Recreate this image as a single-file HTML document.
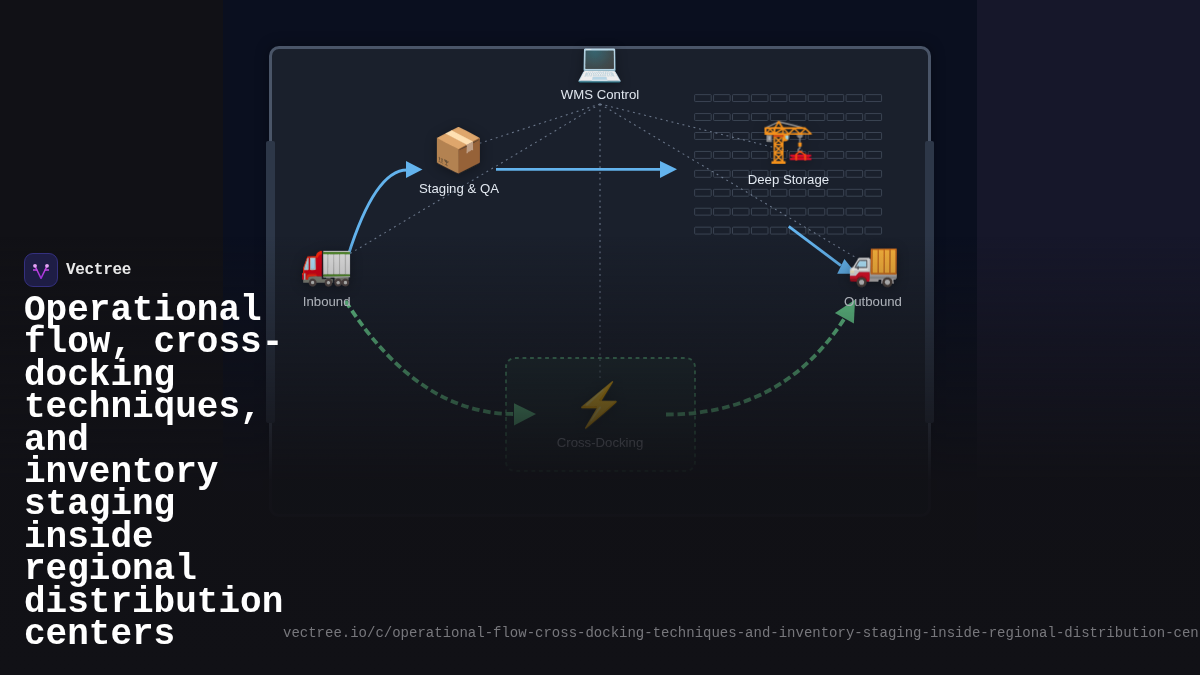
<!DOCTYPE html>
<html><head><meta charset="utf-8">
<style>
*{margin:0;padding:0;box-sizing:border-box}
html,body{width:1200px;height:675px;overflow:hidden;background:#111116}
body{position:relative;font-family:"Liberation Sans",sans-serif}
#diag,#title,#brand,#url{will-change:transform}
#bg{position:absolute;left:977px;top:0;width:223px;height:675px;background:#16172a}
#center{position:absolute;left:223px;top:0;width:754px;height:675px;background:#0a0f1f}
#box{position:absolute;left:269px;top:46px;width:662px;height:471px;border:3px solid #4a5568;border-radius:10px;background:#1a202c;
 box-shadow:0 0 14px rgba(0,0,0,.35)}
.bar{position:absolute;top:141px;width:9px;height:282px;background:#2d3748;border-radius:2px}
#diag{position:absolute;left:0;top:0}
#fade{position:absolute;left:0;top:0;width:1200px;height:675px;
 background:linear-gradient(to bottom,rgba(17,17,22,0) 35%,rgba(17,17,22,.97) 71%,#111116 100%)}
#logo{position:absolute;left:24px;top:253px;width:34px;height:34px;border-radius:9px;background:#1e1d45;border:1px solid #34307f}
#brand{position:absolute;left:66px;top:259.8px;font:bold 16px/20px "Liberation Mono",monospace;letter-spacing:-0.32px;color:#e8e8e8}
#title{position:absolute;left:24px;top:294.6px;width:260px;white-space:nowrap;font:bold 36px/32.4px "Liberation Mono",monospace;color:#fff}
#url{position:absolute;left:283.2px;top:625px;font:14px/16px "Liberation Mono",monospace;color:#77777c;white-space:nowrap}
</style></head>
<body>
<div id="bg"></div>
<div id="center"></div>
<div id="box"></div>
<div class="bar" style="left:266px"></div>
<div class="bar" style="left:925px"></div>
<svg id="diag" width="1200" height="675" viewBox="0 0 1200 675">
 <defs><filter id="ds" x="-50%" y="-50%" width="200%" height="200%"><feDropShadow dx="0" dy="2" stdDeviation="6" flood-color="#000" flood-opacity=".35"/></filter></defs>
 <g id="rack" fill="none" stroke="#3b4453" stroke-width="1"><rect x="694.65" y="94.65" width="16.55" height="6.9" rx=".6"/><rect x="713.58" y="94.65" width="16.55" height="6.9" rx=".6"/><rect x="732.51" y="94.65" width="16.55" height="6.9" rx=".6"/><rect x="751.44" y="94.65" width="16.55" height="6.9" rx=".6"/><rect x="770.37" y="94.65" width="16.55" height="6.9" rx=".6"/><rect x="789.30" y="94.65" width="16.55" height="6.9" rx=".6"/><rect x="808.23" y="94.65" width="16.55" height="6.9" rx=".6"/><rect x="827.16" y="94.65" width="16.55" height="6.9" rx=".6"/><rect x="846.09" y="94.65" width="16.55" height="6.9" rx=".6"/><rect x="865.02" y="94.65" width="16.55" height="6.9" rx=".6"/><rect x="694.65" y="113.58" width="16.55" height="6.9" rx=".6"/><rect x="713.58" y="113.58" width="16.55" height="6.9" rx=".6"/><rect x="732.51" y="113.58" width="16.55" height="6.9" rx=".6"/><rect x="751.44" y="113.58" width="16.55" height="6.9" rx=".6"/><rect x="770.37" y="113.58" width="16.55" height="6.9" rx=".6"/><rect x="789.30" y="113.58" width="16.55" height="6.9" rx=".6"/><rect x="808.23" y="113.58" width="16.55" height="6.9" rx=".6"/><rect x="827.16" y="113.58" width="16.55" height="6.9" rx=".6"/><rect x="846.09" y="113.58" width="16.55" height="6.9" rx=".6"/><rect x="865.02" y="113.58" width="16.55" height="6.9" rx=".6"/><rect x="694.65" y="132.51" width="16.55" height="6.9" rx=".6"/><rect x="713.58" y="132.51" width="16.55" height="6.9" rx=".6"/><rect x="732.51" y="132.51" width="16.55" height="6.9" rx=".6"/><rect x="751.44" y="132.51" width="16.55" height="6.9" rx=".6"/><rect x="770.37" y="132.51" width="16.55" height="6.9" rx=".6"/><rect x="789.30" y="132.51" width="16.55" height="6.9" rx=".6"/><rect x="808.23" y="132.51" width="16.55" height="6.9" rx=".6"/><rect x="827.16" y="132.51" width="16.55" height="6.9" rx=".6"/><rect x="846.09" y="132.51" width="16.55" height="6.9" rx=".6"/><rect x="865.02" y="132.51" width="16.55" height="6.9" rx=".6"/><rect x="694.65" y="151.44" width="16.55" height="6.9" rx=".6"/><rect x="713.58" y="151.44" width="16.55" height="6.9" rx=".6"/><rect x="732.51" y="151.44" width="16.55" height="6.9" rx=".6"/><rect x="751.44" y="151.44" width="16.55" height="6.9" rx=".6"/><rect x="770.37" y="151.44" width="16.55" height="6.9" rx=".6"/><rect x="789.30" y="151.44" width="16.55" height="6.9" rx=".6"/><rect x="808.23" y="151.44" width="16.55" height="6.9" rx=".6"/><rect x="827.16" y="151.44" width="16.55" height="6.9" rx=".6"/><rect x="846.09" y="151.44" width="16.55" height="6.9" rx=".6"/><rect x="865.02" y="151.44" width="16.55" height="6.9" rx=".6"/><rect x="694.65" y="170.37" width="16.55" height="6.9" rx=".6"/><rect x="713.58" y="170.37" width="16.55" height="6.9" rx=".6"/><rect x="732.51" y="170.37" width="16.55" height="6.9" rx=".6"/><rect x="751.44" y="170.37" width="16.55" height="6.9" rx=".6"/><rect x="770.37" y="170.37" width="16.55" height="6.9" rx=".6"/><rect x="789.30" y="170.37" width="16.55" height="6.9" rx=".6"/><rect x="808.23" y="170.37" width="16.55" height="6.9" rx=".6"/><rect x="827.16" y="170.37" width="16.55" height="6.9" rx=".6"/><rect x="846.09" y="170.37" width="16.55" height="6.9" rx=".6"/><rect x="865.02" y="170.37" width="16.55" height="6.9" rx=".6"/><rect x="694.65" y="189.30" width="16.55" height="6.9" rx=".6"/><rect x="713.58" y="189.30" width="16.55" height="6.9" rx=".6"/><rect x="732.51" y="189.30" width="16.55" height="6.9" rx=".6"/><rect x="751.44" y="189.30" width="16.55" height="6.9" rx=".6"/><rect x="770.37" y="189.30" width="16.55" height="6.9" rx=".6"/><rect x="789.30" y="189.30" width="16.55" height="6.9" rx=".6"/><rect x="808.23" y="189.30" width="16.55" height="6.9" rx=".6"/><rect x="827.16" y="189.30" width="16.55" height="6.9" rx=".6"/><rect x="846.09" y="189.30" width="16.55" height="6.9" rx=".6"/><rect x="865.02" y="189.30" width="16.55" height="6.9" rx=".6"/><rect x="694.65" y="208.23" width="16.55" height="6.9" rx=".6"/><rect x="713.58" y="208.23" width="16.55" height="6.9" rx=".6"/><rect x="732.51" y="208.23" width="16.55" height="6.9" rx=".6"/><rect x="751.44" y="208.23" width="16.55" height="6.9" rx=".6"/><rect x="770.37" y="208.23" width="16.55" height="6.9" rx=".6"/><rect x="789.30" y="208.23" width="16.55" height="6.9" rx=".6"/><rect x="808.23" y="208.23" width="16.55" height="6.9" rx=".6"/><rect x="827.16" y="208.23" width="16.55" height="6.9" rx=".6"/><rect x="846.09" y="208.23" width="16.55" height="6.9" rx=".6"/><rect x="865.02" y="208.23" width="16.55" height="6.9" rx=".6"/><rect x="694.65" y="227.16" width="16.55" height="6.9" rx=".6"/><rect x="713.58" y="227.16" width="16.55" height="6.9" rx=".6"/><rect x="732.51" y="227.16" width="16.55" height="6.9" rx=".6"/><rect x="751.44" y="227.16" width="16.55" height="6.9" rx=".6"/><rect x="770.37" y="227.16" width="16.55" height="6.9" rx=".6"/><rect x="789.30" y="227.16" width="16.55" height="6.9" rx=".6"/><rect x="808.23" y="227.16" width="16.55" height="6.9" rx=".6"/><rect x="827.16" y="227.16" width="16.55" height="6.9" rx=".6"/><rect x="846.09" y="227.16" width="16.55" height="6.9" rx=".6"/><rect x="865.02" y="227.16" width="16.55" height="6.9" rx=".6"/></g>
 <!-- dotted lines from hub -->
 <g stroke="#8492a8" stroke-width="1.1" stroke-dasharray="1.9 3.77" fill="none" opacity=".75">
  <line x1="600" y1="104" x2="459" y2="150"/>
  <line x1="600" y1="104" x2="326" y2="268"/>
  <line x1="600" y1="104" x2="788" y2="151"/>
  <line x1="600" y1="104" x2="873" y2="268"/>
  <line x1="600" y1="104" x2="600" y2="378"/>
 </g>
 <!-- cross dock rect -->
 <rect x="506" y="358" width="189" height="113" rx="9" fill="rgba(104,211,145,0.08)" stroke="#68d391" stroke-opacity=".6" stroke-width="1.9" stroke-dasharray="3.77 3.77"/>
 <!-- blue arrows -->
 <g stroke="#63b3ed" stroke-width="2.83" fill="none">
  <path d="M348,256 Q375,170 407,170"/>
  <line x1="496" y1="169.3" x2="661" y2="169.3"/>
  <line x1="788.7" y1="226.4" x2="841" y2="265.6"/>
 </g>
 <g fill="#63b3ed">
  <polygon points="406,161 422.5,169.5 406,178"/>
  <polygon points="660,161 677,169.3 660,178"/>
  <polygon points="844.4,259 856.1,273.7 837.2,273.7"/>
 </g>
 <!-- green dashed -->
 <g stroke="#68d391" stroke-width="3.77" fill="none" stroke-dasharray="7.54 3.77">
  <path d="M345.5,301 Q418,414 514,414"/>
  <path d="M666,414.5 Q782.7,414.5 844.5,318.4"/>
 </g>
 <g fill="#68d391">
  <polygon points="514,403.3 536,414 514,425.4"/>
  <polygon points="834.9,313.1 855,299.7 853.9,323.6"/>
 </g>
 <!-- labels -->
 <g font-family="Liberation Sans" font-size="13.2" fill="#e2e8f0" text-anchor="middle">
  <text x="600" y="99">WMS Control</text>
  <text x="459" y="193">Staging &amp; QA</text>
  <text x="788.4" y="184">Deep Storage</text>
  <text x="326.7" y="306">Inbound</text>
  <text x="873" y="306">Outbound</text>
  <text x="600" y="447" fill="#cbd5e0">Cross-Docking</text>
 </g>
 <g id="icons" filter="url(#ds)"><g transform="translate(578.56 48.52) scale(0.14700)"><path fill="#b7d5e5" d="M39 3 37 7 37 149 41 154 35 156 31 161 0 220 1 226 285 226 286 220 251 158 244 154 249 148 249 6 246 2 240 0 46 0ZM224 177 236 176 238 181 225 182ZM211 176 213 177 212 182 210 181ZM195 176 198 177 197 182 195 181ZM180 176 183 177 182 182 179 181ZM158 177 172 176 173 181 165 182 164 178ZM133 177 151 176 152 181 134 182ZM112 177 127 177 121 178 120 182 117 181 117 178ZM103 176 106 177 105 182 102 181ZM88 176 91 177 89 182 87 181ZM73 176 75 177 74 182 71 181ZM46 181 48 176 60 177 59 182ZM12 214 38 163 44 157 45 151 241 151 242 158 250 169 274 215 197 215 197 207 192 194 193 193 249 193 249 185 245 181 239 165 235 164 232 156 51 156 49 159 49 164 46 165 44 173 41 174 36 186 36 193 93 193 94 195 89 207 89 215 13 216ZM52 18 233 17 235 36 236 134 51 135 50 104Z"/><path fill="#eeeeee" d="M9 213 10 218 277 217 276 211 252 166 244 155 247 152 38 152 42 154 36 160ZM91 210 98 194 189 194 195 212 92 213ZM227 189 226 191 216 190ZM58 189 69 190 59 191ZM38 189 54 190 39 191ZM229 186 230 184 245 185ZM239 172 238 174 222 173ZM219 172 218 174 209 173ZM205 172 204 174 195 173ZM191 172 190 174 180 173ZM81 172 91 173 82 174ZM67 172 77 173 68 174ZM46 172 63 173 47 174ZM220 169 221 167 237 168ZM193 170 194 167 203 168ZM179 170 180 167 189 168ZM166 168 175 167 176 169ZM110 168 120 167 121 169 111 170ZM97 168 106 167 107 170ZM48 168 64 167 65 169ZM213 163 212 165 204 164ZM115 163 125 164 116 165ZM164 162 163 165 154 164ZM202 160 203 158 211 159ZM190 161 191 158 199 159ZM178 161 179 158 187 159ZM165 161 166 158 174 159ZM141 159 149 158 149 160 143 160 143 163 149 163 150 159 151 164 142 165ZM128 161 129 160 130 163 136 163 136 160 129 159 137 158 138 164 129 165ZM91 159 99 158 100 161ZM78 159 86 158 87 160ZM66 159 73 158 74 161 73 162 72 160ZM51 6 51 9 54 11 88 9 86 5Z"/><path fill="#3e4e52" d="M235 126 235 137 238 137 238 126ZM234 72 234 83 237 83 237 72ZM236 15 205 15 194 32 174 52 158 63 134 73 114 77 99 77 82 74 67 69 54 62 49 62 48 111 63 117 80 121 125 122 150 117 179 105 195 95 212 81 236 52Z"/><path fill="#395b63" d="M48 127 48 137 51 137 51 127ZM235 113 235 131 237 131 238 113ZM234 61 234 77 236 77 237 61ZM49 68 49 65 51 64 64 71 79 76 96 79 117 79 137 75 161 65 177 54 196 35 209 15 50 15Z"/><path fill="#414445" d="M237 42 236 46 223 64 201 86 183 99 156 112 122 120 91 120 66 115 49 109 48 106 48 137 238 137 238 88 236 80Z"/><path fill="#a3c3d1" d="M231 186 232 189 246 189 244 186ZM215 186 217 189 225 189 224 186ZM195 186 197 189 210 189 209 186ZM96 189 190 188 189 186 97 186ZM75 189 89 189 90 186 77 186ZM60 189 69 189 70 186 61 186ZM40 189 53 189 55 186 41 186ZM220 177 222 181 241 181 239 177ZM207 177 208 181 217 181 215 177ZM192 177 193 181 201 181 200 177ZM176 177 177 181 186 181 185 177ZM161 177 162 181 170 181 170 177ZM146 177 146 181 154 181 154 177ZM131 177 131 181 139 181 139 177ZM115 177 115 181 124 180 124 177ZM99 181 108 181 108 177 100 177ZM84 181 92 181 93 177 85 177ZM68 181 77 181 78 177 70 177ZM43 181 62 181 64 177 45 177ZM222 169 223 172 237 172 236 169ZM208 169 209 172 217 172 216 169ZM195 169 196 172 203 172 202 169ZM181 169 181 172 189 172 188 169ZM167 169 167 172 175 172 174 169ZM153 169 153 172 161 172 161 169ZM139 169 139 172 147 172 147 169ZM125 169 125 172 133 172 133 169ZM111 170 111 172 119 172 119 169ZM97 171 105 172 105 169 98 169ZM83 172 91 172 92 169 84 169ZM69 172 77 172 78 169 70 169ZM48 172 62 172 63 169 49 169ZM215 160 217 163 231 163 230 160ZM204 160 205 163 211 163 210 160ZM192 160 192 163 199 163 198 160ZM180 160 180 163 187 163 186 160ZM167 160 167 163 174 163 173 160ZM155 160 155 163 162 163 162 160ZM143 160 143 163 149 163 149 160ZM130 160 130 163 136 163 136 160ZM117 160 117 163 124 163 124 160ZM104 161 104 163 111 163 111 160ZM91 162 98 163 98 160 92 160ZM78 162 85 163 85 160 79 160ZM65 163 72 163 72 160 66 160ZM52 163 59 163 60 160 54 160ZM37 11 36 147 40 153 244 154 247 152 246 150 249 149 249 143 247 143 244 149 42 149 39 146 39 12Z"/><path fill="#2f7889" d="M286 221 284 224 1 223 1 226 8 232 278 232 284 228Z"/><path fill="#75a7bc" d="M37 12 35 147 38 152 245 153 249 150 251 146 248 12 247 146 243 150 41 149 38 144Z"/></g>
<radialGradient id="scr" gradientUnits="userSpaceOnUse" cx="594.7" cy="50.7" r="25"><stop offset="0" stop-color="#366570"/><stop offset=".35" stop-color="#3a5860"/><stop offset=".65" stop-color="#3e4d50"/><stop offset="1" stop-color="#424242"/></radialGradient><rect x="585.6" y="50.7" width="28.1" height="17.95" fill="url(#scr)"/>
<g transform="translate(436.94 127.04) scale(0.16650)"><path fill="#b38251" d="M218 136 204 136 191 146 186 146 181 154 175 154 175 160 181 160 182 157 188 157 193 150 200 149 208 142 218 142ZM175 116 175 143 181 143 181 116ZM180 104 174 104 162 110 162 116 168 116 180 110ZM213 84 213 91 219 91 219 84ZM257 69 255 69 254 66 248 66 247 68 226 77 226 83 232 83 250 74 251 72 254 72 255 77 258 77ZM2 65 0 69 0 212 6 217 112 272 127 278 132 278 131 133 137 132 155 123 155 117 149 117 131 126 130 131 126 127 56 92 7 65ZM48 198 58 204 58 213 47 200Z"/><path fill="#966239" d="M255 66 249 66 214 84 215 135 206 136 196 143 187 146 181 154 181 105 173 105 126 130 129 134 130 140 129 275 131 278 256 214 258 209 258 75Z"/><path fill="#dea66c" d="M0 69 4 67 53 94 123 129 127 133 177 106 179 110 180 103 54 38 4 63ZM82 23 93 26 212 89 216 89 216 86 251 68 257 70 254 65 244 58 177 22 131 0 127 0Z"/><path fill="#ffe0b2" d="M50 39 177 105 179 109 216 90 214 86 88 20Z"/><path fill="#bf9f85" d="M215 87 178 107 179 111 176 113 176 119 179 119 177 157 183 157 189 148 199 145 207 138 217 139 216 98 219 96 219 91 217 92Z"/><path fill="#6b5238" d="M9 203 10 207 37 220 37 217ZM43 192 45 203 54 213 54 223 47 223 47 225 65 235 65 232 58 227 58 216 66 215 69 211 69 206 63 203 65 209 62 212 62 205 60 201ZM29 187 24 191 27 193 27 208 33 211 33 197 36 196 31 187ZM14 179 10 182 10 184 12 185 12 200 17 203 17 189 21 189ZM178 112 137 134 133 138 178 118ZM253 75 236 82 235 85 228 86 217 92 217 97 248 80Z"/><path fill="#5d432d" d="M178 112 137 134 133 138 178 118ZM253 76 251 75 226 87 225 89 224 88 223 90 222 89 217 93 217 97Z"/></g>
<g transform="translate(764.49 120.76) scale(0.16650)"><path fill="#f3911c" d="M217 127 209 128 208 131 203 132 203 153 208 154 209 157 217 157 218 154 223 153 223 132 218 131ZM284 77 244 39 232 39 224 36 189 36 196 37 196 39 113 39 98 17 98 14 102 15 95 4 85 0 75 6 66 20 71 17 72 19 60 38 28 39 28 37 32 36 12 36 7 39 2 39 0 42 1 84 11 84 12 87 45 87 46 84 52 84 53 87 112 87 112 95 110 97 93 97 91 99 96 100 84 112 72 100 77 99 75 97 53 96 55 99 55 241 53 243 42 243 42 259 126 259 127 244 114 242 114 123 132 121 137 119 141 114 140 111 127 101 128 90 145 90 146 83 195 84 196 87 230 86 231 83 282 83 284 82ZM68 242 84 225 102 242ZM105 204 106 232 104 233 91 220 91 218ZM64 204 78 218 78 220 65 233 63 232ZM68 196 101 196 85 212ZM72 187 85 174 98 187ZM64 154 78 167 78 169 65 183 63 182ZM105 153 105 182 90 168ZM70 148 71 146 99 147 85 162ZM69 138 84 123 99 138ZM65 104 78 118 64 132 63 105ZM105 102 106 130 104 131 90 117ZM107 56 106 74 75 73 105 55ZM21 69 34 55 48 69ZM225 74 246 53 266 72 265 75ZM116 53 135 73 134 75 121 75 115 73ZM157 73 178 52 180 52 203 74 158 75ZM65 68 66 49 98 50 69 68ZM39 50 54 49 55 64 54 65ZM27 49 27 52 13 67 12 50ZM188 49 238 49 213 73ZM122 49 169 49 146 73ZM71 36 85 15 100 37 72 38Z"/><path fill="#858586" d="M209 155 209 159 198 172 198 182 201 187 199 189 205 189 206 194 208 192 222 193 223 188 228 188 226 186 227 177 223 175 219 181 217 180 217 186 210 185 211 179 209 181 207 176 208 173 217 165 217 155ZM12 85 12 126 44 127 45 85ZM24 94 32 94 35 97 35 112 33 115 24 115 22 113 22 96ZM196 85 196 93 204 102 209 103 209 130 216 130 217 103 222 102 229 94 230 84ZM80 4 8 38 27 38 72 17ZM89 2 97 14 197 38 231 38 177 23Z"/><path fill="#dc0d2a" d="M247 221 247 238 250 235 281 235 281 224 271 224 270 221ZM193 221 193 238 196 235 239 235 242 238 241 221ZM153 224 153 235 185 235 188 238 187 221 166 221 165 224ZM246 200 247 217 270 217 271 214 280 214 280 202 249 202ZM193 200 193 217 241 217 241 203 236 199 230 199 232 201 231 202 198 202 197 201 200 199ZM187 199 185 202 154 202 154 214 165 214 166 217 187 217Z"/><path fill="#ff510f" d="M186 200 185 214 182 215 182 223 185 224 187 238 193 238 195 236 195 224 198 223 198 215 195 214 195 203 213 188 218 190 239 206 239 214 236 215 236 223 239 224 240 237 244 239 249 236 249 224 252 223 252 215 249 214 248 201 243 200 216 179 211 179Z"/><path fill="#d15116" d="M182 217 182 223 185 223 184 217ZM249 215 249 223 252 223 252 215ZM53 84 53 98 114 98 114 84Z"/><path fill="#af0c1a" d="M250 215 250 223 270 223 270 215ZM196 215 196 223 238 223 238 215ZM166 214 166 223 184 223 184 215Z"/><path fill="#b0b0b0" d="M142 98 142 105 144 105 145 98ZM21 92 20 116 36 117 37 94 35 92ZM125 88 125 104 140 115 142 111 136 109 128 102 128 92 134 91 134 88Z"/><path fill="#a7d0d6" d="M126 89 126 105 140 114 144 106 145 88Z"/></g>
<g transform="translate(301.86 250.90) scale(0.16650)"><path fill="#e1e1e1" d="M227 18 227 142 289 142 289 19 262 19 261 132 260 18ZM128 18 129 142 225 142 225 18Z"/><path fill="#d70617" d="M1 142 1 171 7 172 8 175 14 175 14 142ZM120 17 115 17 104 21 98 28 93 38 80 38 82 106 78 112 63 113 54 112 51 109 51 39 39 39 39 108 33 113 13 113 13 136 20 138 20 175 30 175 30 169 28 166 29 156 35 147 44 142 78 142 85 145 87 148 87 155 119 155Z"/><path fill="#c7c8c6" d="M210 179 205 188 207 200 212 203 227 202 231 197 231 185 229 181 225 178ZM151 179 147 185 148 199 153 203 168 202 172 197 171 182 166 178ZM253 178 249 184 250 199 257 203 266 203 271 201 274 196 274 184 272 180 268 177ZM55 179 52 183 53 198 58 202 74 201 77 196 76 181 71 177 59 177ZM128 153 130 159 146 159 147 162 171 162 172 159 196 159 197 162 280 161 282 158 289 157 289 150 129 151ZM275 140 275 143 289 143 289 140ZM11 132 10 144 12 145 12 172 10 175 24 175 22 172 22 135ZM194 65 191 65 191 136 189 139 159 140 158 137 153 137 152 140 129 140 129 143 198 143 198 140 194 139ZM43 39 34 39 31 43 12 98 12 117 15 117 16 115 36 115 41 111 41 42 44 41ZM33 74 33 105 31 107 23 107 23 101ZM48 38 46 41 49 42 49 112 51 114 60 115 81 114 84 109 82 41 85 39 80 37ZM61 48 71 48 76 52 76 102 73 105 59 105 57 102 57 51ZM289 18 255 18 255 20 258 21 258 134 261 138 261 142 267 142 267 140 264 139 264 22 289 21ZM220 18 220 20 223 21 223 139 220 140 220 142 232 142 232 140 229 139 229 21 232 20 232 18ZM186 18 186 20 189 21 189 63 192 63 192 18ZM162 18 156 18 156 44 153 48 153 131 156 131 156 104 159 100 159 21 162 20ZM128 17 128 20 136 20 136 17ZM129 0 129 9 289 9 289 1 281 0Z"/><path fill="#524745" d="M197 173 195 189 197 200 205 210 212 213 226 212 232 209 239 200 249 210 265 213 275 209 283 198 284 186 280 177 280 171 269 165 251 165 242 170 240 173 228 165 209 165 202 168ZM213 181 222 180 227 184 229 194 224 200 215 201 209 197 207 191 209 185ZM256 180 265 179 270 183 272 193 268 199 260 201 256 200 252 196 251 187ZM148 166 146 170 142 170 138 174 135 180 134 190 137 191 140 204 145 209 153 213 160 214 173 210 179 204 182 191 185 190 184 179 177 170 172 170 171 166ZM156 180 163 180 170 187 170 194 163 201 156 201 149 194 149 188ZM53 166 42 175 39 183 39 190 42 191 42 196 45 203 51 209 60 213 70 213 79 209 86 200 87 191 90 190 90 182 87 174 82 169 72 165ZM62 179 68 179 74 184 75 193 69 200 61 200 54 193 55 184Z"/><path fill="#808378" d="M168 167 179 177 182 182 183 190 186 190 186 170 172 170 171 167ZM147 160 147 163 171 163 171 160ZM197 160 197 180 205 170 212 167 225 167 231 170 239 180 245 172 254 167 266 167 272 169 280 176 281 159ZM150 167 147 167 146 170 120 170 119 153 90 153 89 150 48 151 42 153 37 158 34 170 27 170 27 173 23 173 22 170 21 173 13 173 12 170 11 173 8 173 8 190 41 190 44 178 52 170 60 167 69 167 79 171 87 181 88 190 136 190 140 177 150 169ZM9 139 9 144 12 145 12 154 12 139ZM255 140 255 143 267 143 267 140 264 140 263 137 259 137 258 140ZM220 140 220 143 232 143 232 140 229 140 228 137 224 137 223 140ZM189 137 189 143 196 143 196 140 195 141 193 137ZM17 93 13 93 11 105 14 105ZM26 67 22 67 21 76 23 76ZM32 50 28 50 27 59 29 59ZM79 38 83 44 82 41 85 40 85 38ZM35 38 35 43 37 41 40 41 41 43 41 38ZM49 37 49 43 51 40 55 40 55 37ZM168 17 168 20 189 20 190 23 194 23 195 20 217 20 217 17ZM151 17 151 20 153 20 154 23 158 23 159 20 162 20 162 17ZM210 7 210 10 285 10 286 20 289 20 289 7ZM129 7 128 17 131 17 131 7Z"/><path fill="#4f8b26" d="M128 153 288 152 289 141 195 141 193 138 189 138 187 141 159 141 158 138 153 138 152 141 129 141ZM128 19 153 20 154 22 158 22 154 21 154 19 214 19 223 20 224 23 228 23 229 20 258 20 259 23 263 23 264 20 289 19 288 8 129 7Z"/><path fill="#f92610" d="M26 169 29 173 37 172 39 161 45 155 51 153 89 152 89 145 85 141 71 139 47 139 38 141 32 145 27 153ZM120 0 112 0 97 7 89 16 84 32 35 33 33 35 7 103 7 132 1 134 1 144 11 144 12 136 16 134 13 102 34 44 38 40 41 43 42 41 48 41 49 43 52 39 96 40 100 31 107 23 120 18Z"/><path fill="#b0b0b0" d="M259 21 259 139 263 139 263 21ZM224 21 224 139 228 139 228 21ZM190 21 188 140 194 140 194 21ZM134 20 154 21 153 140 158 140 158 21Z"/><path fill="#b0e2fd" d="M36 55 21 98 20 109 35 108ZM58 46 55 48 55 105 56 107 64 108 76 107 78 105 78 49 74 46Z"/><path fill="#5e6365" d="M147 161 148 170 154 167 171 169 171 161Z"/></g>
<g transform="translate(849.94 248.40) scale(0.16650)"><path fill="#f5b03a" d="M275 153 275 159 281 159 281 153ZM121 78 121 85 127 85 127 78ZM206 7 206 149 239 149 239 7ZM170 7 170 149 204 149 204 7ZM136 7 134 9 133 145 136 149 168 149 168 7ZM242 6 241 149 272 149 275 145 275 9 270 6Z"/><path fill="#d16e1d" d="M114 191 113 199 115 197 119 199 120 191ZM35 157 34 164 40 164 41 157ZM44 147 43 154 49 154 50 147ZM127 2 125 5 124 63 121 63 121 139 115 140 115 153 120 153 126 159 280 159 281 4 278 1ZM209 9 237 10 236 147 208 146ZM173 9 202 10 201 147 172 146ZM139 9 166 10 165 147 139 147 135 142 136 12ZM245 8 267 8 273 12 273 142 269 147 243 146 243 10Z"/><path fill="#e0e0e0" d="M121 63 113 57 57 57 51 60 19 110 4 120 1 126 1 135 12 134 12 127 18 121 21 123 41 124 42 127 47 128 23 129 23 143 20 146 1 147 0 167 36 167 57 144 117 144 118 142 120 144ZM53 128 54 123 100 123 104 125 102 128 98 129ZM31 112 50 81 58 72 63 70 96 70 102 74 102 109 99 114 52 115 51 122 49 123 48 121 45 121 41 115 34 115Z"/><path fill="#b3afaf" d="M55 209 56 216 61 216 62 220 68 220 68 214 63 214 61 209ZM208 206 208 212 214 213 214 219 220 219 220 213 214 212 214 206ZM242 205 236 205 234 213 227 214 227 220 233 220 234 215 240 215ZM88 198 82 198 82 207 80 208 79 213 75 213 75 219 81 219 81 215 86 214 86 209 88 208ZM235 192 236 200 242 200 241 192ZM209 191 207 201 213 201 215 191ZM71 185 71 191 76 192 79 196 85 196 85 190 77 185ZM69 185 58 187 55 190 55 195 52 196 52 202 58 202 58 197 69 191ZM242 177 242 183 248 189 252 198 252 213 254 209 257 211 262 211 264 206 261 200 261 189 263 187 274 185 280 177ZM113 199 115 197 118 199 169 199 173 187 188 187 189 199 186 208 188 210 195 209 197 212 198 196 204 186 208 183 208 177 116 177ZM38 161 31 165 31 167 37 167ZM47 151 40 157 46 157ZM57 142 54 142 49 147 55 147ZM41 120 41 126 47 126 47 120ZM50 119 50 125 56 125 56 121ZM104 109 101 108 101 105 95 105 93 114 77 114 77 117 94 117 95 113 100 113 103 115ZM42 90 29 109 29 116 34 117 34 114 32 113 34 106 35 112 43 113 45 109 48 109 48 103 42 103 41 106 36 105 36 102 39 101 40 96 42 97 42 100 48 100 48 94 43 94ZM50 77 42 88 47 88 47 84 50 83ZM94 68 94 71 91 72 91 78 93 78 95 82 101 82 101 75 97 72 101 71 101 69ZM58 69 59 78 65 78 64 68ZM118 62 119 118 118 141 116 142 116 170 281 170 281 153 278 157 127 156 123 151 124 65Z"/><path fill="#4e433d" d="M206 175 201 179 206 180 199 187 195 197 195 209 199 218 206 226 216 231 229 232 239 229 249 220 254 209 254 195 250 186 244 180 248 179 235 172 214 172ZM222 190 231 192 236 197 238 202 235 210 231 214 225 216 219 214 212 205 213 198ZM55 173 44 181 38 192 37 199 40 200 41 210 45 219 51 226 61 231 74 232 86 228 95 219 99 209 99 200 102 199 102 193 98 183 92 177 82 172 64 171ZM67 190 75 191 83 201 81 209 76 214 71 216 63 213 57 204 58 198Z"/><path fill="#dc0d28" d="M118 139 117 142 55 142 34 165 0 165 0 184 41 184 50 174 64 168 75 168 88 173 96 181 101 191 102 199 113 199 117 193 118 180 120 179 117 150Z"/><path fill="#9a9a9a" d="M60 192 56 195 55 201 58 201ZM76 188 72 188 72 191 79 193 82 200 81 209 76 214 68 215 65 213 60 213 58 203 54 203 57 211 63 217 74 218 78 215 79 216 84 210 85 198ZM226 187 226 191 231 192 234 196 239 196 234 190ZM223 187 213 192 209 200 209 205 216 216 228 218 237 213 236 212 240 207 240 199 237 198 237 207 235 208 234 213 227 215 216 214 212 203 214 193 223 191ZM68 187 66 189 62 189 62 191 68 191ZM118 151 118 184 119 179 206 180 217 174 232 174 243 179 251 188 244 180 245 179 279 179 281 175 281 168 119 168ZM29 109 29 116 38 117 40 120 36 121 41 120 43 122 43 127 45 128 55 127 56 121 53 120 55 117 82 116 82 114 51 114 49 121 43 121 42 115 33 114 32 109 47 110 48 108 50 111 56 111 55 103 53 101 47 101 46 99 49 98 57 83 64 78 64 72 91 71 92 78 101 81 101 105 95 106 95 112 99 112 100 116 102 116 104 111 104 71 99 68 60 68 55 70 48 78Z"/><path fill="#afe3fb" d="M35 107 35 113 42 113 48 108 50 109 51 113 99 113 100 74 57 73 48 84Z"/><path fill="#c8c8c8" d="M223 187 213 192 209 200 209 205 216 216 228 218 237 213 236 212 240 207 240 199 234 190ZM64 188 55 197 55 207 60 213 59 214 63 217 77 217 84 210 85 198 76 188ZM57 115 51 115 50 122 44 122 43 117 38 117 40 120 37 121 37 123 43 123 44 128 50 128 50 122 53 120 57 121 53 120 53 117ZM103 112 98 114 89 114 89 116 99 117 103 115ZM99 77 98 110 101 110 101 77ZM104 71 99 68 96 69 95 72 64 72 63 69 60 68 56 71 55 70 48 78 49 79 29 109 29 116 32 116 32 110 34 109 35 105 37 104 38 107 49 89 46 88 48 86 48 82 51 81 51 78 59 72 60 75 96 75 97 71 101 74 103 74ZM44 91 45 95 41 96 40 95 43 94Z"/><path fill="#5f6369" d="M29 112 30 116 39 117 41 120 37 122 46 128 54 128 56 121 53 120 54 116 101 116 103 113 103 71 100 69 59 69 55 71 45 84ZM37 110 52 83 59 75 95 74 99 77 99 109 97 111 54 111 51 105 46 106 40 111Z"/><path fill="#b10a1b" d="M105 199 103 188 98 178 91 171 78 166 57 167 47 172 38 182 0 182 2 194 7 198 40 199 43 188 50 180 61 174 73 173 82 175 89 179 96 186 100 199Z"/><path fill="#ffffff" d="M6 132 9 134 25 134 26 131 101 131 105 130 108 127 108 124 103 121 54 121 50 127 40 121 24 121 21 117 19 117 10 124 10 131Z"/><path fill="#fcedc6" d="M1 133 1 149 23 148 25 146 25 132 12 132 9 130 9 132Z"/></g>
<g transform="translate(581.02 381.11) scale(0.16650)"><path fill="#ffc927" d="M191 0 188 0 3 153 36 154 92 152 95 154 90 162 93 162 94 164 24 281 24 285 31 283 210 121 210 118 124 118 124 115 114 116 112 114 183 17 191 4ZM116 156 118 158 85 202 84 200 111 159ZM91 92 43 139 36 144 32 142 43 130 89 91ZM98 84 99 85 92 91 91 90Z"/><path fill="#feb804" d="M97 151 75 150 4 152 0 159 5 163 94 163 97 157ZM214 120 208 118 131 189 24 283 24 285 31 285 142 191 210 131 214 126ZM191 0 188 0 189 1 181 14 110 110 109 116 111 118 123 118 191 8Z"/><path fill="#ffe567" d="M118 153 113 153 109 156 57 236 57 240 60 240 65 235 120 161 120 155ZM136 50 131 50 40 128 29 139 30 145 37 147 46 141 135 54Z"/></g></g>
</svg>
<div id="fade"></div>
<div id="logo"><svg width="32" height="32" viewBox="0 0 32 32" style="position:absolute;left:0;top:0">
 <g transform="translate(-25,-254)">
 <defs><linearGradient id="lg" x1="0" y1="0" x2="0" y2="1"><stop offset="0" stop-color="#d04ee8"/><stop offset="1" stop-color="#9b2fd6"/></linearGradient></defs>
 <path d="M35,266 L41,278.3 L47,266" stroke="url(#lg)" stroke-width="1.5" fill="none" stroke-linejoin="round"/>
 <path d="M37.2,270 L33,270 M44.8,270 L49,270" stroke="#c445e6" stroke-width="1.4"/>
 <circle cx="35" cy="265.8" r="1.9" fill="#e3a3f3"/><circle cx="47" cy="265.8" r="1.9" fill="#e3a3f3"/>
 </g></svg></div>
<div id="brand">Vectree</div>
<div id="title">Operational<br>flow, cross-<br>docking<br>techniques,<br>and<br>inventory<br>staging<br>inside<br>regional<br>distribution<br>centers</div>
<div id="url">vectree.io/c/operational-flow-cross-docking-techniques-and-inventory-staging-inside-regional-distribution-centers</div>
</body></html>
